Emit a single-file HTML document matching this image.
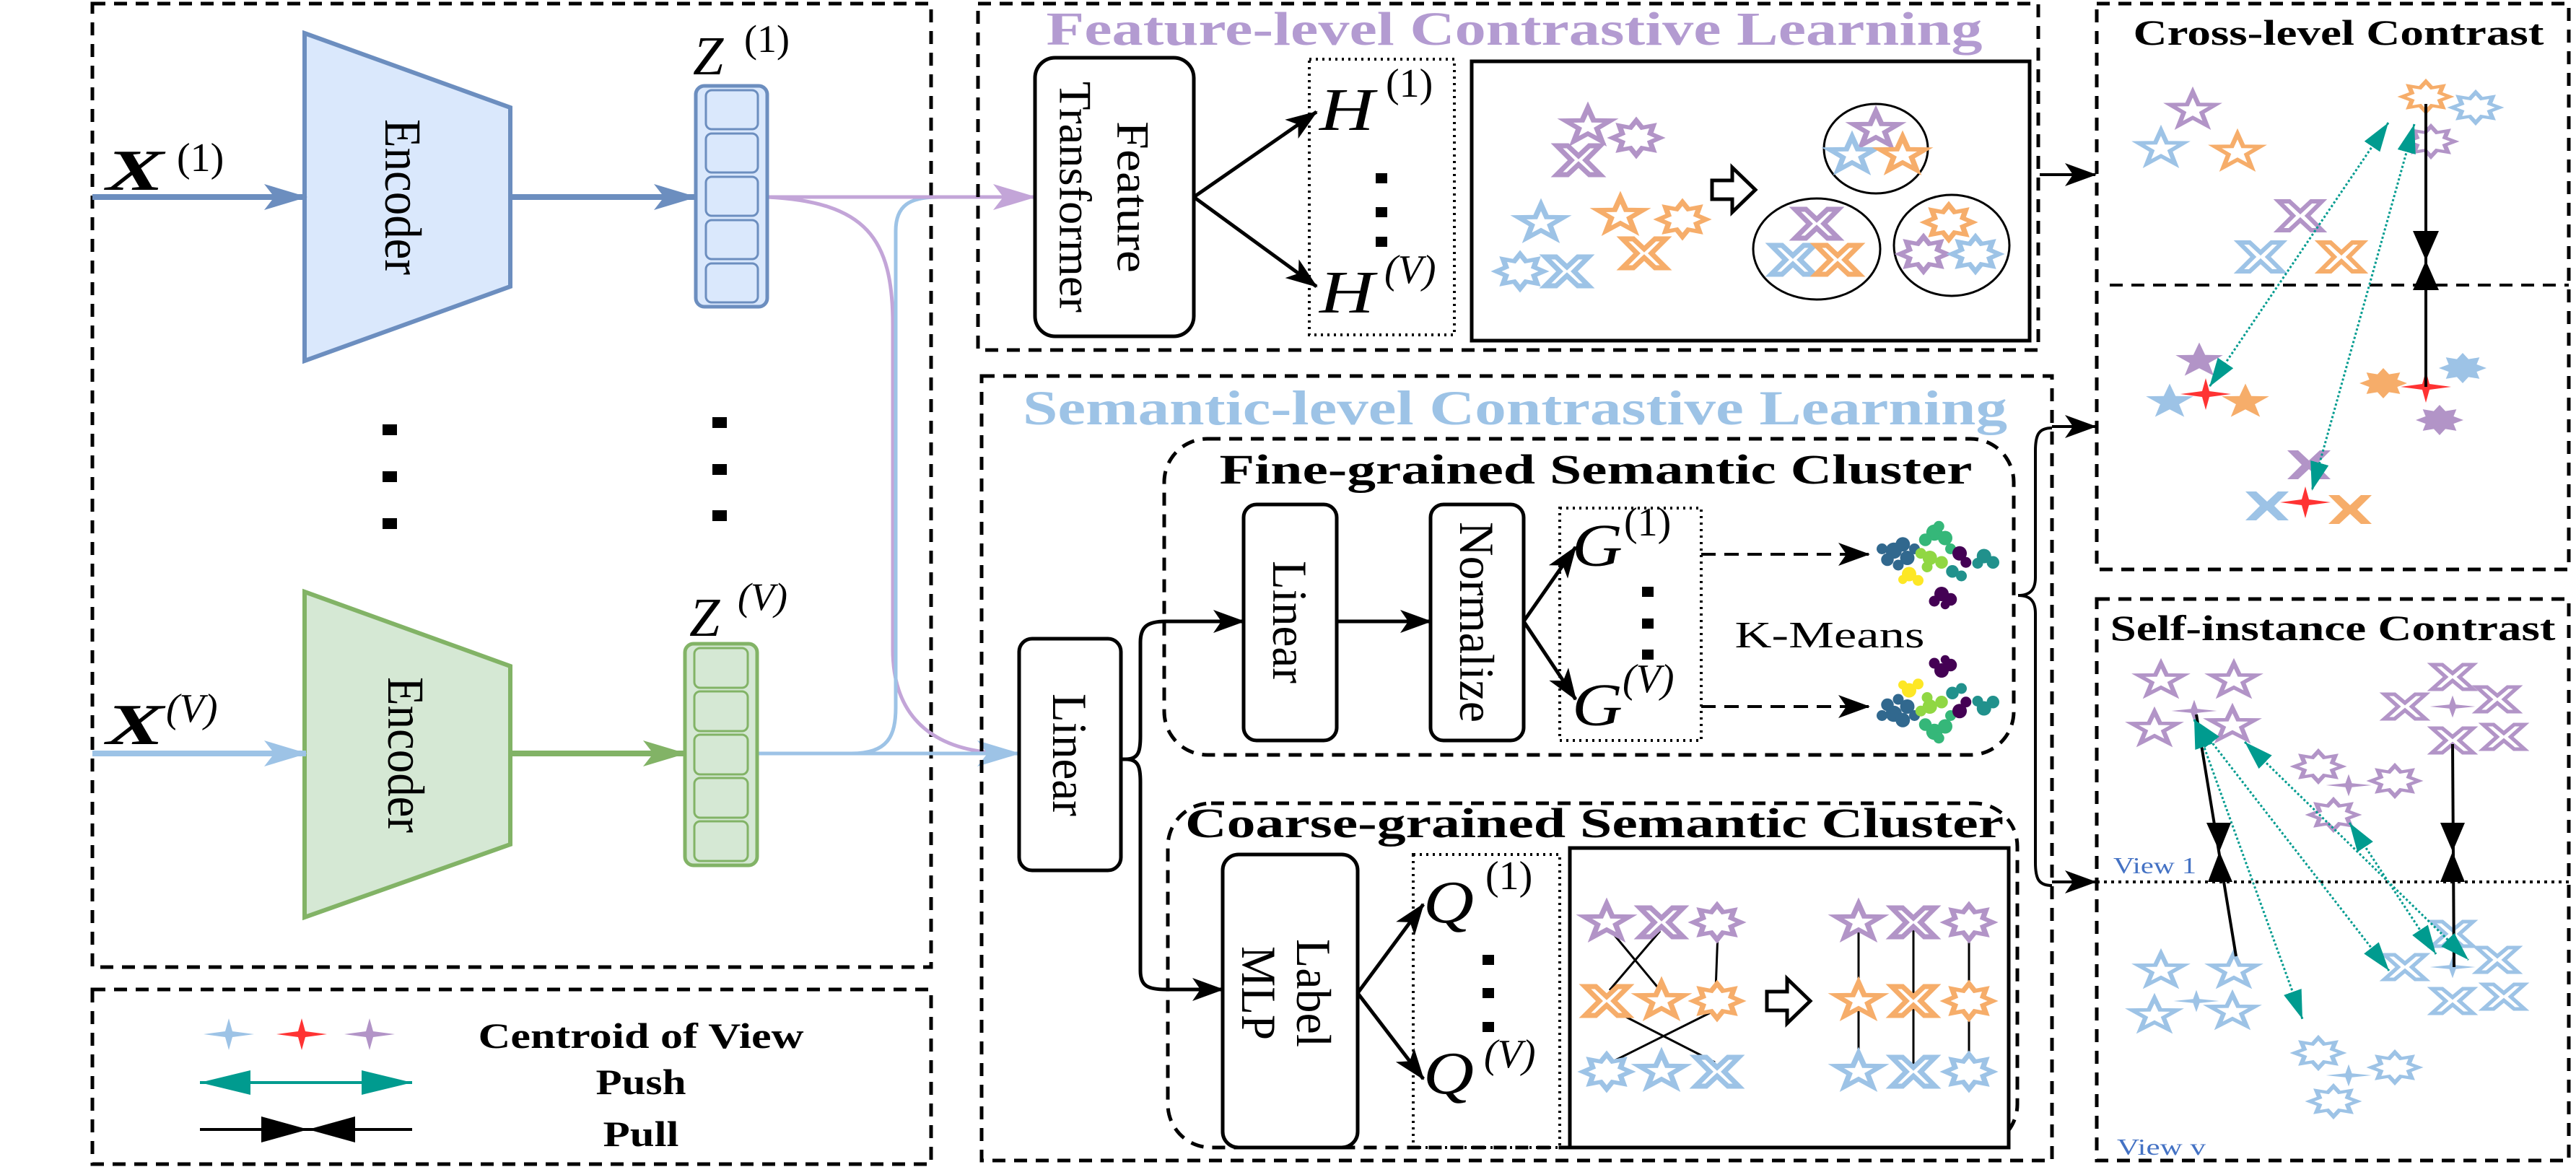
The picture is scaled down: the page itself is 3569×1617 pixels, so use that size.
<!DOCTYPE html>
<html><head><meta charset="utf-8"><style>
html,body{margin:0;padding:0;background:#fff;}
svg{display:block;}
text{font-family:"Liberation Serif",serif;}
</style></head><body>
<svg width="3569" height="1617" viewBox="0 0 3569 1617" xmlns="http://www.w3.org/2000/svg">
<defs>
<polygon id="s5" points="0,-30 7.1,-9.7 28.5,-9.3 11.4,3.7 17.6,24.3 0,12 -17.6,24.3 -11.4,3.7 -28.5,-9.3 -7.1,-9.7"/>
<polygon id="s8" points="30,0 17.6,7.3 21.2,21.2 7.3,17.6 0,30 -7.3,17.6 -21.2,21.2 -17.6,7.3 -30,0 -17.6,-7.3 -21.2,-21.2 -7.3,-17.6 0,-30 7.3,-17.6 21.2,-21.2 17.6,-7.3"/>
<polygon id="sx" points="-30,-20 -15,-20 0,-6 15,-20 30,-20 10,0 30,20 15,20 0,6 -15,20 -30,20 -10,0"/>
<polygon id="c4" points="0,-22 5,-4 35,0 5,4 0,22 -5,4 -35,0 -5,-4"/>
<marker id="mk" markerUnits="userSpaceOnUse" markerWidth="44" markerHeight="32" refX="42" refY="16" orient="auto"><path d="M0,0 L44,16 L0,32 L11,16 z" fill="#000"/></marker>
<marker id="mb" markerUnits="userSpaceOnUse" markerWidth="60" markerHeight="36" refX="58" refY="18" orient="auto"><path d="M0,0 L60,18 L0,36 L14,18 z" fill="#6c8ebf"/></marker>
<marker id="ml" markerUnits="userSpaceOnUse" markerWidth="60" markerHeight="36" refX="58" refY="18" orient="auto"><path d="M0,0 L60,18 L0,36 L14,18 z" fill="#9dc3e6"/></marker>
<marker id="mg" markerUnits="userSpaceOnUse" markerWidth="60" markerHeight="36" refX="58" refY="18" orient="auto"><path d="M0,0 L60,18 L0,36 L14,18 z" fill="#82b366"/></marker>
<marker id="mp" markerUnits="userSpaceOnUse" markerWidth="60" markerHeight="36" refX="58" refY="18" orient="auto"><path d="M0,0 L60,18 L0,36 L14,18 z" fill="#c3a5d8"/></marker>
<marker id="mt" markerUnits="userSpaceOnUse" markerWidth="40" markerHeight="26" refX="40" refY="13" orient="auto-start-reverse"><path d="M0,0 L40,13 L0,26 z" fill="#009b8f"/></marker>
<marker id="mtl" markerUnits="userSpaceOnUse" markerWidth="70" markerHeight="34" refX="70" refY="17" orient="auto-start-reverse"><path d="M0,0 L70,17 L0,34 z" fill="#009b8f"/></marker>
<g id="blob">
<g fill="#31688e"><circle cx="-45" cy="-8" r="9"/><circle cx="-35" cy="-15" r="8"/><circle cx="-52" cy="2" r="7"/><circle cx="-30" cy="0" r="8"/><circle cx="-40" cy="8" r="6"/><circle cx="-58" cy="-10" r="6"/><circle cx="-22" cy="-10" r="6"/></g>
<g fill="#35b779"><circle cx="0" cy="-28" r="9"/><circle cx="12" cy="-22" r="8"/><circle cx="-10" cy="-20" r="7"/><circle cx="5" cy="-35" r="6"/><circle cx="18" cy="-10" r="6"/></g>
<g fill="#90d743"><circle cx="-5" cy="0" r="8"/><circle cx="8" cy="5" r="7"/><circle cx="-15" cy="-5" r="6"/><circle cx="-8" cy="10" r="6"/></g>
<g fill="#fde725"><circle cx="-28" cy="18" r="8"/><circle cx="-18" cy="25" r="6"/><circle cx="-35" cy="24" r="5"/></g>
<g fill="#21918c"><circle cx="55" cy="-2" r="8"/><circle cx="65" cy="5" r="7"/><circle cx="48" cy="6" r="6"/><circle cx="20" cy="15" r="7"/><circle cx="30" cy="20" r="6"/></g>
<g fill="#440154"><circle cx="28" cy="-5" r="8"/><circle cx="35" cy="5" r="6"/><circle cx="8" cy="40" r="8"/><circle cx="18" cy="46" r="7"/><circle cx="0" cy="48" r="6"/><circle cx="12" cy="52" r="5"/></g>
</g>
</defs>

<rect x="128" y="5" width="1162" height="1335" fill="none" stroke="#000" stroke-width="5" stroke-dasharray="18,12"/>
<rect x="128" y="1371" width="1162" height="242" fill="none" stroke="#000" stroke-width="5" stroke-dasharray="18,12"/>

<path d="M1063,273 C1200,280 1237,330 1237,450 L1237,900 C1237,1000 1300,1044 1400,1044" fill="none" stroke="#c3a5d8" stroke-width="5"/>
<path d="M1180,1044 C1230,1044 1241,1020 1241,980 L1241,320 C1241,285 1260,273 1300,273" fill="none" stroke="#9dc3e6" stroke-width="5"/>
<line x1="1063" y1="273" x2="1434" y2="273" stroke="#c3a5d8" stroke-width="5" marker-end="url(#mp)"/>
<line x1="1049" y1="1044" x2="1412" y2="1044" stroke="#9dc3e6" stroke-width="5" marker-end="url(#ml)"/>

<polygon points="422,46 707,149 707,397 422,500" fill="#dae8fc" stroke="#6c8ebf" stroke-width="6"/>
<text transform="translate(558,273) rotate(90)" text-anchor="middle" dominant-baseline="central" font-size="72" textLength="216" lengthAdjust="spacingAndGlyphs">Encoder</text>
<polygon points="422,820 707,923 707,1170 422,1271" fill="#d5e8d4" stroke="#82b366" stroke-width="6"/>
<text transform="translate(562,1046) rotate(90)" text-anchor="middle" dominant-baseline="central" font-size="72" textLength="216" lengthAdjust="spacingAndGlyphs">Encoder</text>

<line x1="128" y1="273" x2="424" y2="273" stroke="#6c8ebf" stroke-width="8" marker-end="url(#mb)"/>
<line x1="707" y1="273" x2="964" y2="273" stroke="#6c8ebf" stroke-width="8" marker-end="url(#mb)"/>
<line x1="128" y1="1044" x2="424" y2="1044" stroke="#9dc3e6" stroke-width="8" marker-end="url(#ml)"/>
<line x1="707" y1="1044" x2="949" y2="1044" stroke="#82b366" stroke-width="8" marker-end="url(#mg)"/>

<text x="147" y="263" font-size="80" font-weight="bold" font-style="italic" textLength="80" lengthAdjust="spacingAndGlyphs">X</text>
<text x="245" y="237" font-size="56">(1)</text>
<text x="147" y="1031" font-size="80" font-weight="bold" font-style="italic" textLength="80" lengthAdjust="spacingAndGlyphs">X</text>
<text x="230" y="1000" font-size="56" font-style="italic">(V)</text>

<rect x="964" y="119" width="99" height="306" rx="12" fill="#dae8fc" stroke="#6c8ebf" stroke-width="5"/>
<g fill="#dae8fc" stroke="#6c8ebf" stroke-width="3">
<rect x="978" y="125" width="72" height="54" rx="8"/><rect x="978" y="185" width="72" height="54" rx="8"/><rect x="978" y="245" width="72" height="54" rx="8"/><rect x="978" y="305" width="72" height="54" rx="8"/><rect x="978" y="365" width="72" height="54" rx="8"/>
</g>
<text x="960" y="103" font-size="76" font-style="italic">Z</text>
<text x="1031" y="72" font-size="54">(1)</text>
<rect x="949" y="892" width="100" height="307" rx="12" fill="#d5e8d4" stroke="#82b366" stroke-width="5"/>
<g fill="#d5e8d4" stroke="#82b366" stroke-width="3">
<rect x="962" y="898" width="74" height="55" rx="8"/><rect x="962" y="958" width="74" height="55" rx="8"/><rect x="962" y="1018" width="74" height="55" rx="8"/><rect x="962" y="1078" width="74" height="55" rx="8"/><rect x="962" y="1138" width="74" height="55" rx="8"/>
</g>
<text x="955" y="881" font-size="76" font-style="italic">Z</text>
<text x="1022" y="845" font-size="54" font-style="italic">(V)</text>

<g fill="#000">
<rect x="530" y="588" width="20" height="15"/><rect x="530" y="653" width="20" height="15"/><rect x="530" y="718" width="20" height="15"/>
<rect x="987" y="578" width="20" height="15"/><rect x="987" y="643" width="20" height="15"/><rect x="987" y="707" width="20" height="15"/>
</g>

<use href="#c4" transform="translate(317,1433)" fill="#9dc3e6"/>
<use href="#c4" transform="translate(418,1433)" fill="#ff3333"/>
<use href="#c4" transform="translate(512,1433)" fill="#b294c7"/>
<line x1="277" y1="1500" x2="571" y2="1500" stroke="#009b8f" stroke-width="4" marker-start="url(#mtl)" marker-end="url(#mtl)"/>
<line x1="277" y1="1565" x2="571" y2="1565" stroke="#000" stroke-width="4"/>
<polygon points="362,1547 362,1583 427,1565" fill="#000"/><polygon points="492,1547 492,1583 427,1565" fill="#000"/>
<g font-weight="bold" font-size="50" text-anchor="middle">
<text x="888" y="1452" textLength="451" lengthAdjust="spacingAndGlyphs">Centroid of View</text>
<text x="888" y="1516" textLength="125" lengthAdjust="spacingAndGlyphs">Push</text>
<text x="888" y="1588" textLength="105" lengthAdjust="spacingAndGlyphs">Pull</text>
</g>

<rect x="1355" y="5" width="1469" height="480" fill="none" stroke="#000" stroke-width="5" stroke-dasharray="18,12"/>
<text x="2098" y="62" font-size="66" font-weight="bold" fill="#b39bd1" text-anchor="middle" textLength="1297" lengthAdjust="spacingAndGlyphs">Feature-level Contrastive Learning</text>
<rect x="1434" y="80" width="220" height="386" rx="28" fill="#fff" stroke="#000" stroke-width="5"/>
<text transform="translate(1570,273) rotate(90)" text-anchor="middle" dominant-baseline="central" font-size="64" textLength="210" lengthAdjust="spacingAndGlyphs">Feature</text>
<text transform="translate(1490,273) rotate(90)" text-anchor="middle" dominant-baseline="central" font-size="64" textLength="320" lengthAdjust="spacingAndGlyphs">Transformer</text>
<line x1="1654" y1="273" x2="1824" y2="155" stroke="#000" stroke-width="5" marker-end="url(#mk)"/>
<line x1="1654" y1="273" x2="1824" y2="397" stroke="#000" stroke-width="5" marker-end="url(#mk)"/>
<rect x="1814" y="82" width="201" height="382" fill="none" stroke="#000" stroke-width="4" stroke-dasharray="3,6"/>
<text x="1828" y="180" font-size="84" font-style="italic" textLength="76" lengthAdjust="spacingAndGlyphs">H</text><text x="1920" y="134" font-size="56">(1)</text>
<text x="1828" y="433" font-size="84" font-style="italic" textLength="76" lengthAdjust="spacingAndGlyphs">H</text><text x="1918" y="392" font-size="56" font-style="italic">(V)</text>
<g fill="#000"><rect x="1906" y="240" width="16" height="14"/><rect x="1906" y="287" width="16" height="14"/><rect x="1906" y="328" width="16" height="14"/></g>
<rect x="2039" y="85" width="773" height="387" fill="#fff" stroke="#000" stroke-width="5"/>
<g stroke-width="7" fill="#fff">
<use href="#s5" transform="translate(2200,175) scale(1.1,0.85)" stroke="#b294c7"/>
<use href="#s8" transform="translate(2267,191) scale(1.1,0.8)" stroke="#b294c7"/>
<use href="#sx" transform="translate(2187,222)" stroke="#b294c7"/>
<use href="#s5" transform="translate(2135,309) scale(1.1,0.85)" stroke="#9dc3e6"/>
<use href="#s8" transform="translate(2106,376) scale(1.1,0.8)" stroke="#9dc3e6"/>
<use href="#sx" transform="translate(2171,376)" stroke="#9dc3e6"/>
<use href="#s5" transform="translate(2245,299) scale(1.1,0.85)" stroke="#f6ad6a"/>
<use href="#s8" transform="translate(2331,304) scale(1.1,0.8)" stroke="#f6ad6a"/>
<use href="#sx" transform="translate(2278,351)" stroke="#f6ad6a"/>
</g>
<polygon points="2372,250 2400,250 2400,232 2432,263 2400,294 2400,276 2372,276" fill="#fff" stroke="#000" stroke-width="5"/>
<g fill="none" stroke="#000" stroke-width="3">
<ellipse cx="2599" cy="206" rx="72" ry="62"/><ellipse cx="2517" cy="345" rx="88" ry="70"/><ellipse cx="2704" cy="340" rx="80" ry="70"/>
</g>
<g stroke-width="7" fill="#fff">
<use href="#s5" transform="translate(2599,180) scale(1.1,0.85)" stroke="#b294c7"/>
<use href="#s5" transform="translate(2566,215) scale(1.1,0.85)" stroke="#9dc3e6"/>
<use href="#s5" transform="translate(2636,215) scale(1.1,0.85)" stroke="#f6ad6a"/>
<use href="#sx" transform="translate(2517,310)" stroke="#b294c7"/>
<use href="#sx" transform="translate(2484,360)" stroke="#9dc3e6"/>
<use href="#sx" transform="translate(2546,360)" stroke="#f6ad6a"/>
<use href="#s8" transform="translate(2700,308) scale(1.1,0.8)" stroke="#f6ad6a"/>
<use href="#s8" transform="translate(2665,352) scale(1.1,0.8)" stroke="#b294c7"/>
<use href="#s8" transform="translate(2737,352) scale(1.1,0.8)" stroke="#9dc3e6"/>
</g>

<rect x="1360" y="521" width="1483" height="1087" fill="none" stroke="#000" stroke-width="5" stroke-dasharray="18,12"/>
<text x="2099" y="588" font-size="68" font-weight="bold" fill="#9dc3e6" text-anchor="middle" textLength="1364" lengthAdjust="spacingAndGlyphs">Semantic-level Contrastive Learning</text>
<rect x="1613" y="608" width="1177" height="438" rx="60" fill="none" stroke="#000" stroke-width="5" stroke-dasharray="18,12"/>
<text x="2211" y="670" font-size="58" font-weight="bold" text-anchor="middle" textLength="1043" lengthAdjust="spacingAndGlyphs">Fine-grained Semantic Cluster</text>
<rect x="1618" y="1113" width="1177" height="477" rx="60" fill="none" stroke="#000" stroke-width="5" stroke-dasharray="18,12"/>
<text x="2209" y="1160" font-size="58" font-weight="bold" text-anchor="middle" textLength="1134" lengthAdjust="spacingAndGlyphs">Coarse-grained Semantic Cluster</text>

<rect x="1412" y="885" width="141" height="321" rx="18" fill="#fff" stroke="#000" stroke-width="5"/>
<text transform="translate(1482,1046) rotate(90)" text-anchor="middle" dominant-baseline="central" font-size="68" textLength="170" lengthAdjust="spacingAndGlyphs">Linear</text>
<path d="M1553,1052 L1560,1052 C1578,1052 1580,1040 1580,1020 L1580,890 C1580,868 1590,861 1615,861 L1723,861" fill="none" stroke="#000" stroke-width="5" marker-end="url(#mk)"/>
<path d="M1560,1052 C1578,1052 1580,1064 1580,1084 L1580,1345 C1580,1366 1590,1371 1615,1371 L1694,1371" fill="none" stroke="#000" stroke-width="5" marker-end="url(#mk)"/>

<rect x="1723" y="699" width="129" height="327" rx="18" fill="#fff" stroke="#000" stroke-width="5"/>
<text transform="translate(1787,862) rotate(90)" text-anchor="middle" dominant-baseline="central" font-size="68" textLength="170" lengthAdjust="spacingAndGlyphs">Linear</text>
<rect x="1982" y="699" width="129" height="327" rx="18" fill="#fff" stroke="#000" stroke-width="5"/>
<text transform="translate(2046,862) rotate(90)" text-anchor="middle" dominant-baseline="central" font-size="68" textLength="278" lengthAdjust="spacingAndGlyphs">Normalize</text>
<line x1="1852" y1="861" x2="1982" y2="861" stroke="#000" stroke-width="5" marker-end="url(#mk)"/>
<line x1="2111" y1="861" x2="2183" y2="758" stroke="#000" stroke-width="5" marker-end="url(#mk)"/>
<line x1="2111" y1="861" x2="2183" y2="969" stroke="#000" stroke-width="5" marker-end="url(#mk)"/>
<rect x="2161" y="704" width="196" height="322" fill="none" stroke="#000" stroke-width="4" stroke-dasharray="3,6"/>
<text x="2178" y="784" font-size="84" font-style="italic" textLength="70" lengthAdjust="spacingAndGlyphs">G</text><text x="2250" y="742" font-size="56">(1)</text>
<text x="2178" y="1005" font-size="84" font-style="italic" textLength="70" lengthAdjust="spacingAndGlyphs">G</text><text x="2248" y="959" font-size="56" font-style="italic">(V)</text>
<g fill="#000"><rect x="2275" y="813" width="16" height="14"/><rect x="2275" y="857" width="16" height="14"/><rect x="2275" y="900" width="16" height="14"/></g>
<line x1="2357" y1="768" x2="2589" y2="768" stroke="#000" stroke-width="4" stroke-dasharray="20,12" marker-end="url(#mk)"/>
<line x1="2357" y1="979" x2="2589" y2="979" stroke="#000" stroke-width="4" stroke-dasharray="20,12" marker-end="url(#mk)"/>
<text x="2535" y="897" font-size="52" text-anchor="middle" textLength="263" lengthAdjust="spacingAndGlyphs">K-Means</text>
<use href="#blob" transform="translate(2680,773) scale(1.25)"/>
<use href="#blob" transform="translate(2680,979) scale(1.25,-1.25)"/>

<rect x="1694" y="1184" width="187" height="406" rx="22" fill="#fff" stroke="#000" stroke-width="5"/>
<text transform="translate(1820,1376) rotate(90)" text-anchor="middle" dominant-baseline="central" font-size="68" textLength="150" lengthAdjust="spacingAndGlyphs">Label</text>
<text transform="translate(1744,1376) rotate(90)" text-anchor="middle" dominant-baseline="central" font-size="68" textLength="130" lengthAdjust="spacingAndGlyphs">MLP</text>
<line x1="1881" y1="1376" x2="1972" y2="1253" stroke="#000" stroke-width="5" marker-end="url(#mk)"/>
<line x1="1881" y1="1376" x2="1972" y2="1495" stroke="#000" stroke-width="5" marker-end="url(#mk)"/>
<rect x="1958" y="1184" width="203" height="406" fill="none" stroke="#000" stroke-width="4" stroke-dasharray="3,6"/>
<text x="1972" y="1278" font-size="84" font-style="italic" textLength="70" lengthAdjust="spacingAndGlyphs">Q</text><text x="2058" y="1232" font-size="56">(1)</text>
<text x="1972" y="1515" font-size="84" font-style="italic" textLength="70" lengthAdjust="spacingAndGlyphs">Q</text><text x="2056" y="1479" font-size="56" font-style="italic">(V)</text>
<g fill="#000"><rect x="2054" y="1323" width="16" height="14"/><rect x="2054" y="1369" width="16" height="14"/><rect x="2054" y="1416" width="16" height="14"/></g>
<rect x="2175" y="1175" width="608" height="415" fill="#fff" stroke="#000" stroke-width="5"/>
<g stroke="#000" stroke-width="3">
<line x1="2232" y1="1290" x2="2300" y2="1372"/><line x1="2300" y1="1290" x2="2230" y2="1372"/><line x1="2380" y1="1292" x2="2377" y2="1372"/>
<line x1="2235" y1="1400" x2="2376" y2="1472"/><line x1="2376" y1="1400" x2="2232" y2="1472"/>
<line x1="2575" y1="1280" x2="2575" y2="1485"/><line x1="2651" y1="1280" x2="2651" y2="1485"/><line x1="2728" y1="1280" x2="2728" y2="1485"/>
</g>
<g stroke-width="7" fill="#fff">
<use href="#s5" transform="translate(2226,1278) scale(1.1,0.85)" stroke="#b294c7"/>
<use href="#sx" transform="translate(2302,1278)" stroke="#b294c7"/>
<use href="#s8" transform="translate(2379,1278) scale(1.1,0.8)" stroke="#b294c7"/>
<use href="#sx" transform="translate(2226,1387)" stroke="#f6ad6a"/>
<use href="#s5" transform="translate(2302,1387) scale(1.1,0.85)" stroke="#f6ad6a"/>
<use href="#s8" transform="translate(2379,1387) scale(1.1,0.8)" stroke="#f6ad6a"/>
<use href="#s8" transform="translate(2226,1485) scale(1.1,0.8)" stroke="#9dc3e6"/>
<use href="#s5" transform="translate(2302,1485) scale(1.1,0.85)" stroke="#9dc3e6"/>
<use href="#sx" transform="translate(2379,1485)" stroke="#9dc3e6"/>
<use href="#s5" transform="translate(2575,1278) scale(1.1,0.85)" stroke="#b294c7"/>
<use href="#sx" transform="translate(2651,1278)" stroke="#b294c7"/>
<use href="#s8" transform="translate(2728,1278) scale(1.1,0.8)" stroke="#b294c7"/>
<use href="#s5" transform="translate(2575,1387) scale(1.1,0.85)" stroke="#f6ad6a"/>
<use href="#sx" transform="translate(2651,1387)" stroke="#f6ad6a"/>
<use href="#s8" transform="translate(2728,1387) scale(1.1,0.8)" stroke="#f6ad6a"/>
<use href="#s5" transform="translate(2575,1485) scale(1.1,0.85)" stroke="#9dc3e6"/>
<use href="#sx" transform="translate(2651,1485)" stroke="#9dc3e6"/>
<use href="#s8" transform="translate(2728,1485) scale(1.1,0.8)" stroke="#9dc3e6"/>
</g>
<polygon points="2448,1374 2476,1374 2476,1356 2508,1387 2476,1418 2476,1400 2448,1400" fill="#fff" stroke="#000" stroke-width="5"/>

<path d="M2843,593 C2824,593 2820,603 2820,625 L2820,800 C2820,818 2812,825 2796,825 C2812,825 2820,832 2820,850 L2820,1195 C2820,1217 2824,1227 2843,1227" fill="none" stroke="#000" stroke-width="4"/>
<line x1="2826" y1="242" x2="2903" y2="242" stroke="#000" stroke-width="4" marker-end="url(#mk)"/>
<line x1="2843" y1="591" x2="2903" y2="591" stroke="#000" stroke-width="4" marker-end="url(#mk)"/>
<line x1="2843" y1="1222" x2="2903" y2="1222" stroke="#000" stroke-width="4" marker-end="url(#mk)"/>

<rect x="2905" y="5" width="654" height="784" fill="none" stroke="#000" stroke-width="5" stroke-dasharray="18,12"/>
<line x1="2923" y1="395" x2="3559" y2="395" stroke="#000" stroke-width="4" stroke-dasharray="18,12"/>
<text x="3240" y="62" font-size="50" font-weight="bold" text-anchor="middle" textLength="569" lengthAdjust="spacingAndGlyphs">Cross-level Contrast</text>
<g stroke-width="6" fill="#fff">
<use href="#s5" transform="translate(2994,206) scale(1.1,0.85)" stroke="#9dc3e6"/>
<use href="#s5" transform="translate(3038,153) scale(1.1,0.85)" stroke="#b294c7"/>
<use href="#s5" transform="translate(3100,211) scale(1.1,0.85)" stroke="#f6ad6a"/>
<use href="#sx" transform="translate(3187,299)" stroke="#b294c7"/>
<use href="#sx" transform="translate(3132,356)" stroke="#9dc3e6"/>
<use href="#sx" transform="translate(3244,356)" stroke="#f6ad6a"/>
<use href="#s8" transform="translate(3361,134) scale(1.1,0.7)" stroke="#f6ad6a"/>
<use href="#s8" transform="translate(3430,149) scale(1.1,0.7)" stroke="#9dc3e6"/>
<use href="#s8" transform="translate(3368,196) scale(1.1,0.7)" stroke="#b294c7"/>
</g>
<g>
<use href="#s5" transform="translate(3047,500) scale(1.15,0.85)" fill="#b294c7"/>
<use href="#s5" transform="translate(3006,557) scale(1.15,0.85)" fill="#9dc3e6"/>
<use href="#s5" transform="translate(3111,557) scale(1.15,0.85)" fill="#f6ad6a"/>
<use href="#c4" transform="translate(3056,546)" fill="#ff3333"/>
<use href="#s8" transform="translate(3302,531) scale(1.1,0.7)" fill="#f6ad6a"/>
<use href="#s8" transform="translate(3412,510) scale(1.1,0.7)" fill="#9dc3e6"/>
<use href="#s8" transform="translate(3380,582) scale(1.1,0.7)" fill="#b294c7"/>
<use href="#c4" transform="translate(3361,536)" fill="#ff3333"/>
<use href="#sx" transform="translate(3199,644)" fill="#b294c7"/>
<use href="#sx" transform="translate(3141,701)" fill="#9dc3e6"/>
<use href="#sx" transform="translate(3256,706)" fill="#f6ad6a"/>
<use href="#c4" transform="translate(3194,696)" fill="#ff3333"/>
</g>
<line x1="3361" y1="144" x2="3361" y2="536" stroke="#000" stroke-width="4"/>
<polygon points="3343,320 3379,320 3361,361" fill="#000"/><polygon points="3343,402 3379,402 3361,361" fill="#000"/>
<g stroke="#009b8f" stroke-width="3" stroke-dasharray="3,3" fill="none">
<line x1="3309" y1="170" x2="3061" y2="536" marker-start="url(#mt)" marker-end="url(#mt)"/>
<line x1="3345" y1="172" x2="3203" y2="680" marker-start="url(#mt)" marker-end="url(#mt)"/>
</g>

<rect x="2905" y="830" width="654" height="778" fill="none" stroke="#000" stroke-width="5" stroke-dasharray="18,12"/>
<line x1="2905" y1="1222" x2="3559" y2="1222" stroke="#000" stroke-width="4" stroke-dasharray="4,6"/>
<text x="3232" y="887" font-size="50" font-weight="bold" text-anchor="middle" textLength="617" lengthAdjust="spacingAndGlyphs">Self-instance Contrast</text>
<text x="2928" y="1210" font-size="32" fill="#4472c4" textLength="115" lengthAdjust="spacingAndGlyphs">View 1</text>
<text x="2933" y="1600" font-size="32" fill="#4472c4" textLength="123" lengthAdjust="spacingAndGlyphs">View v</text>
<g stroke-width="6" fill="#fff">
<use href="#s5" transform="translate(2994,943) scale(1.1,0.8)" stroke="#b294c7"/>
<use href="#s5" transform="translate(3095,943) scale(1.1,0.8)" stroke="#b294c7"/>
<use href="#s5" transform="translate(2985,1010) scale(1.1,0.8)" stroke="#b294c7"/>
<use href="#s5" transform="translate(3093,1005) scale(1.1,0.8)" stroke="#b294c7"/>
<use href="#s8" transform="translate(3212,1062) scale(1.1,0.7)" stroke="#b294c7"/>
<use href="#s8" transform="translate(3318,1082) scale(1.1,0.7)" stroke="#b294c7"/>
<use href="#s8" transform="translate(3233,1129) scale(1.1,0.7)" stroke="#b294c7"/>
<use href="#sx" transform="translate(3398,938) scale(0.95,0.85)" stroke="#b294c7"/>
<use href="#sx" transform="translate(3332,979) scale(0.95,0.85)" stroke="#b294c7"/>
<use href="#sx" transform="translate(3460,969) scale(0.95,0.85)" stroke="#b294c7"/>
<use href="#sx" transform="translate(3398,1026) scale(0.95,0.85)" stroke="#b294c7"/>
<use href="#sx" transform="translate(3469,1021) scale(0.95,0.85)" stroke="#b294c7"/>
<use href="#s5" transform="translate(2994,1345) scale(1.1,0.8)" stroke="#9dc3e6"/>
<use href="#s5" transform="translate(3095,1345) scale(1.1,0.8)" stroke="#9dc3e6"/>
<use href="#s5" transform="translate(2985,1407) scale(1.1,0.8)" stroke="#9dc3e6"/>
<use href="#s5" transform="translate(3093,1402) scale(1.1,0.8)" stroke="#9dc3e6"/>
<use href="#s8" transform="translate(3212,1459) scale(1.1,0.7)" stroke="#9dc3e6"/>
<use href="#s8" transform="translate(3318,1479) scale(1.1,0.7)" stroke="#9dc3e6"/>
<use href="#s8" transform="translate(3233,1526) scale(1.1,0.7)" stroke="#9dc3e6"/>
<use href="#sx" transform="translate(3332,1340) scale(0.95,0.85)" stroke="#9dc3e6"/>
<use href="#sx" transform="translate(3398,1294) scale(0.95,0.85)" stroke="#9dc3e6"/>
<use href="#sx" transform="translate(3460,1330) scale(0.95,0.85)" stroke="#9dc3e6"/>
<use href="#sx" transform="translate(3398,1387) scale(0.95,0.85)" stroke="#9dc3e6"/>
<use href="#sx" transform="translate(3469,1381) scale(0.95,0.85)" stroke="#9dc3e6"/>
</g>
<g>
<use href="#c4" transform="translate(3040,985) scale(0.9,0.7)" fill="#b294c7"/>
<use href="#c4" transform="translate(3254,1088) scale(0.9,0.7)" fill="#b294c7"/>
<use href="#c4" transform="translate(3398,979) scale(0.9,0.7)" fill="#b294c7"/>
<use href="#c4" transform="translate(3043,1387) scale(0.9,0.7)" fill="#9dc3e6"/>
<use href="#c4" transform="translate(3254,1490) scale(0.9,0.7)" fill="#9dc3e6"/>
<use href="#c4" transform="translate(3398,1340) scale(0.9,0.7)" fill="#9dc3e6"/>
</g>
<line x1="3043" y1="990" x2="3098" y2="1325" stroke="#000" stroke-width="4"/>
<polygon points="3057,1140 3091,1140 3075,1180" fill="#000"/><polygon points="3059,1222 3093,1222 3075,1180" fill="#000"/>
<line x1="3398" y1="1031" x2="3400" y2="1340" stroke="#000" stroke-width="4"/>
<polygon points="3381,1140 3415,1140 3398,1180" fill="#000"/><polygon points="3381,1222 3415,1222 3398,1180" fill="#000"/>
<g stroke="#009b8f" stroke-width="3" stroke-dasharray="3,3" fill="none">
<line x1="3040" y1="997" x2="3190" y2="1412" marker-start="url(#mt)" marker-end="url(#mt)"/>
<line x1="3040" y1="997" x2="3310" y2="1345" marker-start="url(#mt)" marker-end="url(#mt)"/>
<line x1="3110" y1="1028" x2="3420" y2="1330" marker-start="url(#mt)" marker-end="url(#mt)"/>
<line x1="3255" y1="1140" x2="3375" y2="1322" marker-start="url(#mt)" marker-end="url(#mt)"/>
</g>
</svg>
</body></html>
